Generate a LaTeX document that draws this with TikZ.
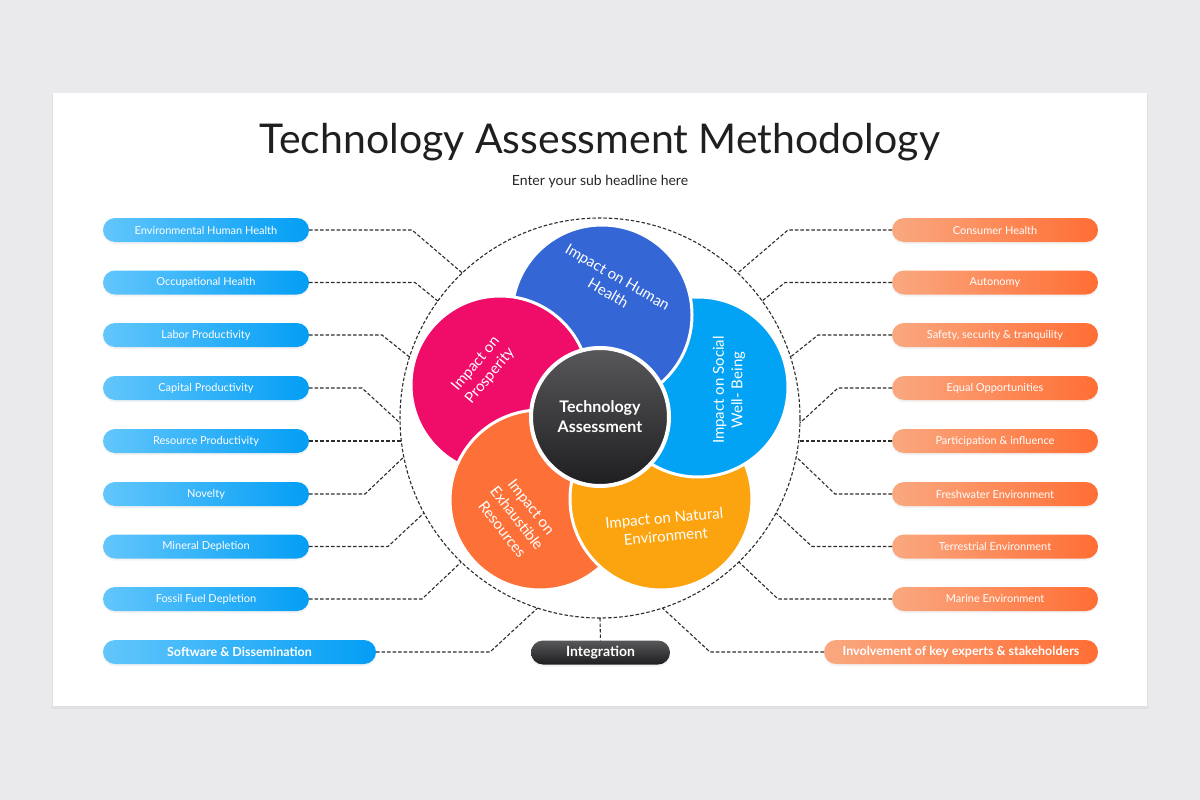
\documentclass[tikz,border=0pt]{standalone}
\usepackage{fontspec}
\setmainfont{Lato}
\usetikzlibrary{shadows}
\definecolor{bgc}{RGB}{234,233,235}
\definecolor{lbA}{RGB}{98,198,251}
\definecolor{lbB}{RGB}{3,158,245}
\definecolor{orA}{RGB}{250,168,128}
\definecolor{orB}{RGB}{255,110,52}
\definecolor{pBlue}{RGB}{52,102,214}
\definecolor{pSky}{RGB}{2,163,245}
\definecolor{pYel}{RGB}{252,164,16}
\definecolor{pOrg}{RGB}{253,113,56}
\definecolor{pPink}{RGB}{240,12,105}
\definecolor{dkA}{RGB}{88,88,90}
\definecolor{dkB}{RGB}{30,30,32}
\definecolor{lnc}{RGB}{45,45,45}
\begin{document}
\begin{tikzpicture}[x=1pt,y=-1pt,
  pillbase/.style={rounded corners=12pt, minimum height=24pt, inner sep=0pt, text=white,
    drop shadow={shadow xshift=0pt, shadow yshift=-2pt, fill=black, opacity=0.05}},
  pillL/.style={pillbase, minimum width=206pt, left color=lbA, right color=lbB, font=\fontsize{11}{13}\selectfont},
  pillR/.style={pillbase, minimum width=206pt, left color=orA, right color=orB, font=\fontsize{11}{13}\selectfont},
  pillLb/.style={pillbase, minimum width=273pt, left color=lbA, right color=lbB, font=\bfseries\fontsize{12.5}{14}\selectfont},
  pillRb/.style={pillbase, minimum width=274pt, left color=orA, right color=orB, font=\bfseries\fontsize{12.5}{14}\selectfont},
  conn/.style={draw=lnc, line width=1.1pt, dash pattern=on 3.5pt off 2pt},
  petal/.style={draw=white, line width=3pt},
  ptext/.style={text=white, align=center, font=\fontsize{15}{18.5}\selectfont, inner sep=0pt}
]
\useasboundingbox (0,0) rectangle (1200,800);
\fill[bgc] (0,0) rectangle (1200,800);
\fill[black, opacity=0.04] (52,94) rectangle (1148,709);
\fill[white] (53,93) rectangle (1147,706);

% titles
\node[font=\fontsize{41}{48}\selectfont, text=black!88] (title) at (600,142) {Technology Assessment Methodology};
\node[font=\fontsize{14}{16}\selectfont, text=black!85] (sub) at (600,182) {Enter your sub headline here};

% big dashed circle
\draw[conn] (600,418) circle[radius=200];

% circle points
\coordinate (a1) at (462.3,273);
\coordinate (a2) at (437.8,301);
\coordinate (a3) at (409.5,357);
\coordinate (a4) at (400.1,423);
\coordinate (a5) at (401.3,441);
\coordinate (a6) at (403.8,457);
\coordinate (a7) at (424,513);
\coordinate (a8) at (461.2,562);
\coordinate (a9) at (537.6,608);
\coordinate (b1) at (737.7,273);
\coordinate (b2) at (762.2,301);
\coordinate (b3) at (790.5,357);
\coordinate (b4) at (799.9,423);
\coordinate (b5) at (798.7,441);
\coordinate (b6) at (796.2,457);
\coordinate (b7) at (776,513);
\coordinate (b8) at (738.8,562);
\coordinate (b9) at (662.4,608);
\coordinate (bot) at (600,618);

% left pills
\node[pillL] (l1) at (206,230) {Environmental Human Health};
\node[pillL] (l2) at (206,282.5) {Occupational Health};
\node[pillL] (l3) at (206,335) {Labor Productivity};
\node[pillL] (l4) at (206,388) {Capital Productivity};
\node[pillL] (l5) at (206,441) {Resource Productivity};
\node[pillL] (l6) at (206,494) {Novelty};
\node[pillL] (l7) at (206,546.5) {Mineral Depletion};
\node[pillL] (l8) at (206,599) {Fossil Fuel Depletion};
\node[pillLb] (l9) at (239.5,652) {Software \& Dissemination};
% right pills
\node[pillR] (r1) at (995,230) {Consumer Health};
\node[pillR] (r2) at (995,282.5) {Autonomy};
\node[pillR] (r3) at (995,335) {Safety, security \& tranquility};
\node[pillR] (r4) at (995,388) {Equal Opportunities};
\node[pillR] (r5) at (995,441) {Participation \& influence};
\node[pillR] (r6) at (995,494) {Freshwater Environment};
\node[pillR] (r7) at (995,546.5) {Terrestrial Environment};
\node[pillR] (r8) at (995,599) {Marine Environment};
\node[pillRb] (r9) at (961,652) {Involvement of key experts \& stakeholders};
% integration
\node[pillbase, minimum width=139pt, top color=dkA, bottom color=dkB, font=\bfseries\fontsize{14}{16}\selectfont] (integ) at (600.5,652.5) {Integration};

% connectors left
\draw[conn] (l1.east) -- (412,230) -- (a1);
\draw[conn] (l2.east) -- (415,282.5) -- (a2);
\draw[conn] (l3.east) -- (382,335) -- (a3);
\draw[conn] (l4.east) -- (362,388) -- (a4);
\draw[conn] (l5.east) -- (a5);
\draw[conn] (l6.east) -- (365,494) -- (a6);
\draw[conn] (l7.east) -- (388,546.5) -- (a7);
\draw[conn] (l8.east) -- (422,599) -- (a8);
\draw[conn] (l9.east) -- (490,652) -- (a9);
% connectors right
\draw[conn] (r1.west) -- (788,230) -- (b1);
\draw[conn] (r2.west) -- (785,282.5) -- (b2);
\draw[conn] (r3.west) -- (818,335) -- (b3);
\draw[conn] (r4.west) -- (838,388) -- (b4);
\draw[conn] (r5.west) -- (b5);
\draw[conn] (r6.west) -- (835,494) -- (b6);
\draw[conn] (r7.west) -- (812,546.5) -- (b7);
\draw[conn] (r8.west) -- (778,599) -- (b8);
\draw[conn] (r9.west) -- (710,652) -- (b9);
\draw[conn] (bot) -- (integ.north);

% petals
\fill[pOrg, petal] (540,500) circle[radius=90];
\fill[pYel, petal] (661,499) circle[radius=91];
\fill[pSky, petal] (698,387) circle[radius=90];
\fill[pBlue, petal] (602,315) circle[radius=90];
\fill[pPink, petal] (500,385) circle[radius=89];
\begin{scope}
  \clip (500,385) circle[radius=91];
  \fill[pOrg, petal] (540,500) circle[radius=90];
\end{scope}

% petal texts
\node[ptext, rotate=-30] (tBlue) at (613,285) {Impact on Human\\Health};
\node[ptext, rotate=90] (tSky) at (729,390) {Impact on Social\\Well- Being};
\node[ptext, rotate=5] (tYel) at (665,527) {Impact on Natural\\Environment};
\node[ptext, rotate=-52] (tOrg) at (517,518) {Impact on\\Exhaustible\\Resources};
\node[ptext, rotate=50] (tPink) at (483,370) {Impact on\\Prosperity};

% centre
\node[circle, minimum size=138pt, draw=white, line width=4pt, top color=dkA, bottom color=dkB,
  text=white, align=center, font=\bfseries\fontsize{16}{20}\selectfont] (ta) at (600,417) {Technology\\Assessment};
\end{tikzpicture}
\end{document}
